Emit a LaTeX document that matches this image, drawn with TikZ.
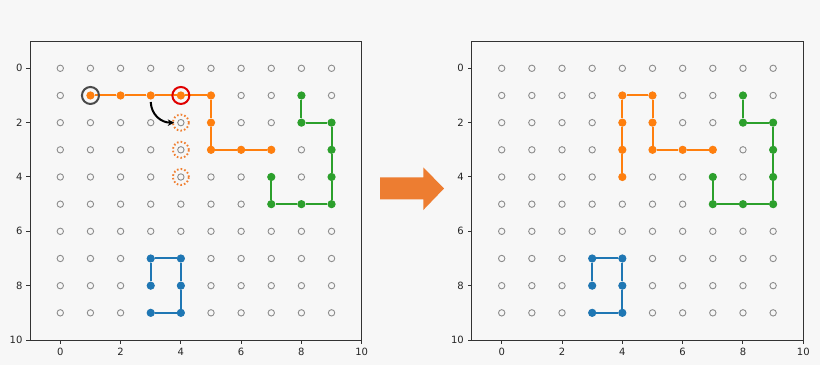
\documentclass[tikz,border=0pt]{standalone}
\usepackage{fontspec}
\setmainfont{DejaVu Sans}
\usetikzlibrary{arrows.meta}
\definecolor{bg}{HTML}{F7F7F7}
\definecolor{torange}{HTML}{FF7F0E}
\definecolor{tgreen}{HTML}{2CA02C}
\definecolor{tblue}{HTML}{1F77B4}
\definecolor{gridgray}{HTML}{8C8C8C}
\definecolor{ringgray}{HTML}{4A4A4A}
\definecolor{ringred}{HTML}{E00000}
\definecolor{dotorange}{HTML}{F07F30}
\definecolor{axiscol}{HTML}{333333}
\definecolor{bigarrow}{HTML}{ED7D31}
\tikzset{
  gpt/.style={circle,draw=gridgray,line width=0.9pt,inner sep=0pt,minimum size=6.4pt},
  fdot/.style={circle,fill=#1,inner sep=0pt,minimum size=8.2pt},
  pline/.style={draw=#1,line width=2.0pt},
  axframe/.style={draw=axiscol,line width=1pt},
  tickmark/.style={draw=axiscol,line width=1pt},
  ticklab/.style={inner sep=0pt,font=\fontsize{10pt}{12pt}\selectfont,text=black!85},
  startring/.style={circle,draw=ringgray,line width=2pt,inner sep=0pt,minimum size=17pt},
  targetring/.style={circle,draw=ringred,line width=2pt,inner sep=0pt,minimum size=17pt},
  candring/.style={circle,draw=dotorange,line width=1.9pt,dash pattern=on 1.6pt off 2.1pt,inner sep=0pt,minimum size=16pt},
  movearrow/.style={draw=black,line width=2pt,-{Stealth[length=6.5pt,width=6.5pt]}},
}
\begin{document}
\begin{tikzpicture}[x=1pt,y=-1pt]
\fill[bg] (0,0) rectangle (820,365);
\useasboundingbox (0,0) rectangle (820,365);

% ---------------- Left panel ----------------
\begin{scope}[shift={(60.3,68.3)},x=30.14pt,y=-27.17pt]
  \draw[axframe] (-1,-1) rectangle (10,10);
  \foreach \v in {0,2,...,10}{
    \draw[tickmark] (\v,10) -- ++(0pt,-4pt);
    \node[ticklab,anchor=north,yshift=-8pt] (Lxl\v) at (\v,10) {\v};
    \draw[tickmark] (-1,\v) -- ++(-4pt,0pt);
    \node[ticklab,anchor=east,xshift=-7.5pt] (Lyl\v) at (-1,\v) {\v};
  }
  \foreach \i in {0,...,9}{\foreach \j in {0,...,9}{
    \node[gpt] (Lg-\i-\j) at (\i,\j) {};
  }}
  % orange
  \foreach \n/\p in {a/{1,1},b/{2,1},c/{3,1},d/{4,1},e/{5,1},f/{5,2},g/{5,3},h/{6,3},k/{7,3}}
    \node[fdot=torange] (Lo\n) at (\p) {};
  \draw[pline=torange] (Loa)--(Lob)--(Loc)--(Lod)--(Loe)--(Lof)--(Log)--(Loh)--(Lok);
  % green
  \foreach \n/\p in {a/{8,1},b/{8,2},c/{9,2},d/{9,3},e/{9,4},f/{9,5},g/{8,5},h/{7,5},k/{7,4}}
    \node[fdot=tgreen] (Lgr\n) at (\p) {};
  \draw[pline=tgreen] (Lgra)--(Lgrb)--(Lgrc)--(Lgrd)--(Lgre)--(Lgrf)--(Lgrg)--(Lgrh)--(Lgrk);
  % blue
  \foreach \n/\p in {a/{3,8},b/{3,7},c/{4,7},d/{4,8},e/{4,9},f/{3,9}}
    \node[fdot=tblue] (Lb\n) at (\p) {};
  \draw[pline=tblue] (Lba)--(Lbb)--(Lbc)--(Lbd)--(Lbe)--(Lbf);
  % rings
  \node[startring] (Lstart) at (1,1) {};
  \node[targetring] (Ltarget) at (4,1) {};
  \node[candring] (Lc1) at (4,2) {};
  \node[candring] (Lc2) at (4,3) {};
  \node[candring] (Lc3) at (4,4) {};
  % move arrow
  \coordinate (ArrS) at (3,1.24);
  \coordinate (ArrE) at (3.78,2.0);
  \draw[movearrow] (ArrS) .. controls (3.02,1.72) and (3.35,2.0) .. (ArrE);
\end{scope}

% ---------------- Big arrow ----------------
\fill[bigarrow] (380,177.3) -- (423.3,177.3) -- (423.3,167.3) -- (444,188.5)
  -- (423.3,210) -- (423.3,199.3) -- (380,199.3) -- cycle;

% ---------------- Right panel ----------------
\begin{scope}[shift={(501.7,68.3)},x=30.16pt,y=-27.17pt]
  \draw[axframe] (-1,-1) rectangle (10,10);
  \foreach \v in {0,2,...,10}{
    \draw[tickmark] (\v,10) -- ++(0pt,-4pt);
    \node[ticklab,anchor=north,yshift=-8pt] (Rxl\v) at (\v,10) {\v};
    \draw[tickmark] (-1,\v) -- ++(-4pt,0pt);
    \node[ticklab,anchor=east,xshift=-7.5pt] (Ryl\v) at (-1,\v) {\v};
  }
  \foreach \i in {0,...,9}{\foreach \j in {0,...,9}{
    \node[gpt] (Rg-\i-\j) at (\i,\j) {};
  }}
  % orange
  \foreach \n/\p in {a/{4,4},b/{4,3},c/{4,2},d/{4,1},e/{5,1},f/{5,2},g/{5,3},h/{6,3},k/{7,3}}
    \node[fdot=torange] (Ro\n) at (\p) {};
  \draw[pline=torange] (Roa)--(Rob)--(Roc)--(Rod)--(Roe)--(Rof)--(Rog)--(Roh)--(Rok);
  % green
  \foreach \n/\p in {a/{8,1},b/{8,2},c/{9,2},d/{9,3},e/{9,4},f/{9,5},g/{8,5},h/{7,5},k/{7,4}}
    \node[fdot=tgreen] (Rgr\n) at (\p) {};
  \draw[pline=tgreen] (Rgra)--(Rgrb)--(Rgrc)--(Rgrd)--(Rgre)--(Rgrf)--(Rgrg)--(Rgrh)--(Rgrk);
  % blue
  \foreach \n/\p in {a/{3,8},b/{3,7},c/{4,7},d/{4,8},e/{4,9},f/{3,9}}
    \node[fdot=tblue] (Rb\n) at (\p) {};
  \draw[pline=tblue] (Rba)--(Rbb)--(Rbc)--(Rbd)--(Rbe)--(Rbf);
\end{scope}
\end{tikzpicture}
\end{document}
